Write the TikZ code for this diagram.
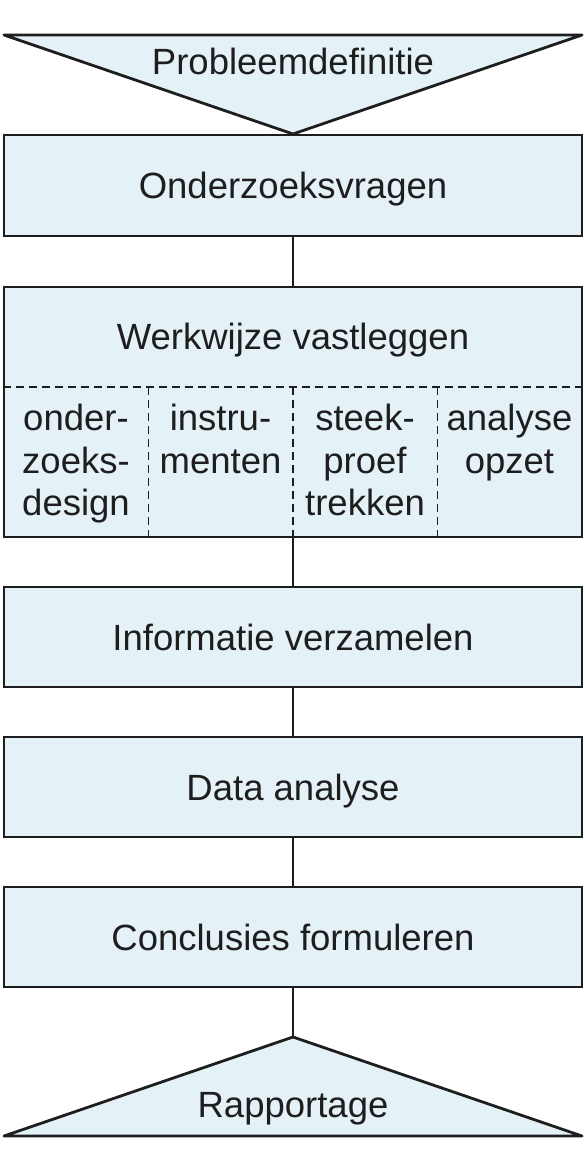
\documentclass[tikz,border=0pt]{standalone}
\usepackage{fontspec}
\setmainfont{Liberation Sans}
\usetikzlibrary{calc}
\definecolor{boxfill}{RGB}{228,242,247}
\definecolor{ink}{RGB}{30,30,30}
\begin{document}
\begin{tikzpicture}[x=1pt,y=-1pt,
  txt/.style={font=\fontsize{36.5}{42.5}\selectfont, text=ink},
  box/.style={draw=ink, line width=2.8pt, fill=boxfill, minimum width=578pt, inner sep=0pt, txt, text height=26pt, text depth=0pt},
  tri/.style={draw=ink, line width=2.8pt, fill=boxfill, line join=round},
  lbl/.style={txt, inner sep=0pt, text height=26pt, text depth=0pt},
  cell/.style={txt, inner sep=0pt, align=center, anchor=north},
  link/.style={draw=ink, line width=1.6pt},
  sep/.style={draw=ink, line width=1.7pt, dash pattern=on 8pt off 5pt}]
\useasboundingbox (0,0) rectangle (586,1170);
% top triangle
\coordinate (pdl) at (4,35);
\coordinate (pdr) at (582,35);
\coordinate (pdapex) at (293,134);
\draw[tri] (pdl) -- (pdr) -- (pdapex) -- cycle;
\node[lbl] (pd) at (293,61) {Probleemdefinitie};
% boxes
\node[box, minimum height=101pt] (oz) at (293,185.5) {Onderzoeksvragen};
\node[box, minimum height=250pt] (ww) at (293,412) {};
\node[lbl] (wwt) at (293,336) {Werkwijze vastleggen};
\coordinate (dl) at ($(ww.north west)!0.4!(ww.south west)$);
\coordinate (dr) at ($(ww.north east)!0.4!(ww.south east)$);
\draw[sep] (dl) -- (dr);
\foreach \i/\xx in {1/148.5,2/293,3/437.5}{
  \coordinate (vt\i) at (\xx,387);
  \coordinate (vb\i) at (\xx,537);
  \draw[sep] (vt\i) -- (vb\i);
}
\node[cell] (c1) at (76,404) {onder-\\zoeks-\\design};
\node[cell] (c2) at (220.5,404) {instru-\\menten};
\node[cell] (c3) at (365,404) {steek-\\proef\\trekken};
\node[cell] (c4) at (509.5,404) {analyse\\opzet};
\node[box, minimum height=100pt] (iv) at (293,637) {Informatie verzamelen};
\node[box, minimum height=100pt] (da) at (293,787) {Data analyse};
\node[box, minimum height=100pt] (cf) at (293,937) {Conclusies formuleren};
% bottom triangle
\coordinate (rpl) at (4,1136);
\coordinate (rpr) at (582,1136);
\coordinate (rpapex) at (293,1037);
\draw[tri] (rpl) -- (rpapex) -- (rpr) -- cycle;
\node[lbl] (rp) at (293,1104) {Rapportage};
% connectors
\draw[link] (oz.south) -- (ww.north);
\draw[link] (ww.south) -- (iv.north);
\draw[link] (iv.south) -- (da.north);
\draw[link] (da.south) -- (cf.north);
\draw[link] (cf.south) -- (rpapex);
\end{tikzpicture}
\end{document}
